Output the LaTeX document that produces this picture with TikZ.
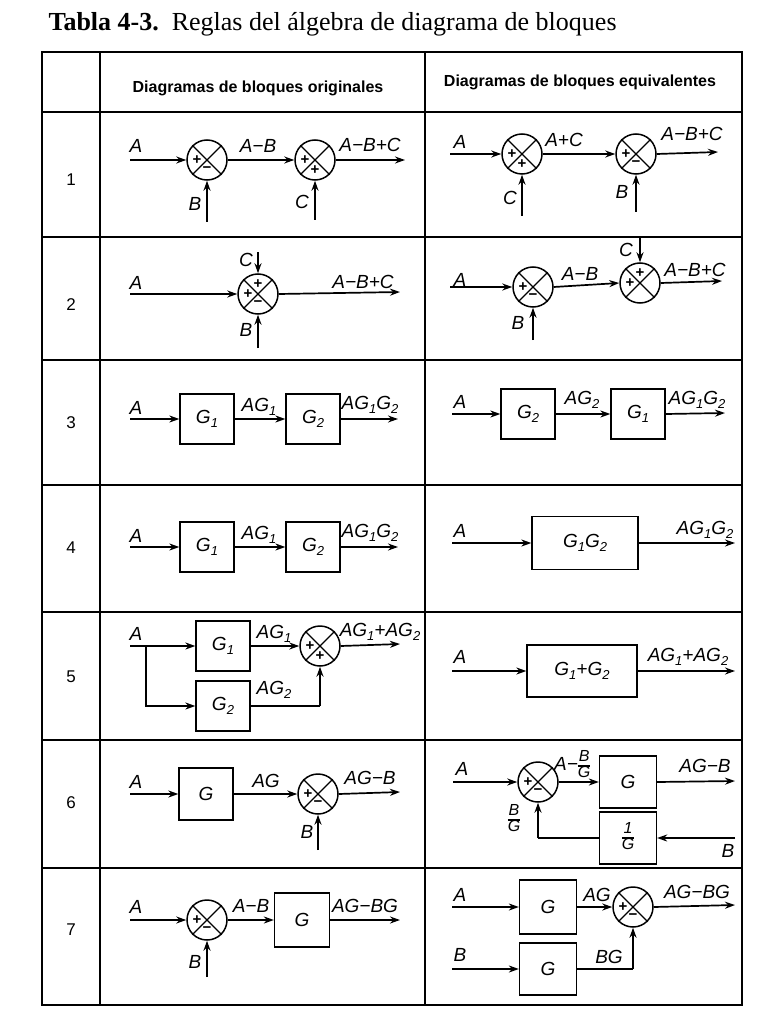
\documentclass[tikz,border=0pt]{standalone}
\usepackage{fontspec}
\setmainfont{Liberation Serif}
\newfontfamily\labf{Liberation Sans}
\usetikzlibrary{arrows.meta,calc}
\newcommand\lab{\labf\itshape\fontsize{19}{21}\selectfont}
\newcommand\sub[1]{\raisebox{-0.35ex}{\fontsize{13}{13}\selectfont #1}}
\newcommand\fr[2]{\begingroup\fontsize{16}{16}\selectfont\setlength\arrayrulewidth{1.2pt}\renewcommand\arraystretch{0.75}\begin{tabular}{@{}c@{}}#1\\\hline #2\end{tabular}\endgroup}
\newcommand\sj[5]{\node[sumj] (#1) at #2 {};
 \draw[line width=1.2pt] (#1.45)--(#1.225) (#1.135)--(#1.315);
 \node[sg] at ($(#1)+(-10,0)$) {#3};
 \node[sg] at ($(#1)+(0,-10)$) {#4};
 \node[sg] at ($(#1)+(0,10)$) {#5};}
\begin{document}
\begin{tikzpicture}[x=1pt,y=-1pt,
 ar/.style={-{Stealth[length=10pt,width=7pt]},line width=1.7pt},
 ln/.style={line width=1.7pt},
 tl/.style={line width=1.5pt},
 blk/.style={draw,line width=1.3pt,minimum width=54pt,minimum height=50pt,inner sep=0pt,font=\lab},
 sumj/.style={circle,draw,line width=1.5pt,minimum size=40pt,inner sep=0pt},
 sg/.style={font=\labf\bfseries\fontsize{15}{15}\selectfont,inner sep=0pt},
 lb/.style={font=\lab,inner sep=0pt},
 num/.style={font=\labf\fontsize{17}{17}\selectfont},
 hd/.style={font=\labf\bfseries\fontsize{16}{17}\selectfont}]
\useasboundingbox (0,0) rectangle (768,1024);
\node[anchor=west,font=\fontsize{26}{28}\selectfont] (title) at (45,24) {\textbf{Tabla 4-3.}\enspace Reglas del álgebra de diagrama de bloques};
% table
\draw[tl] (42,52) rectangle (742,1005);
\draw[tl] (100,52) -- (100,1005) (425,52) -- (425,1005);
\foreach \yy in {112,237,360,485,612,740,868} \draw[tl] (42,\yy) -- (742,\yy);
\node[hd] (h1) at (258,88) {Diagramas de bloques originales};
\node[hd] (h2) at (580,82) {Diagramas de bloques equivalentes};
\foreach \n/\yy in {1/180,2/305,3/423,4/548,5/677,6/803,7/930} \node[num] (n\n) at (71,\yy) {\n};
% row 1 left
\sj{a1}{(207,160)}{+}{}{−}
\sj{a2}{(315,160)}{+}{}{+}
\draw[ar] (130,160) -- (a1.west);
\draw[ar] (207,222) -- (a1.south);
\draw[ar] (a1.east) -- (a2.west);
\draw[ar] (315,220) -- (a2.south);
\draw[ar] (a2.east) -- (405,160);
\node[lb] (l1) at (136,146) {A};
\node[lb] (l2) at (195,204) {B};
\node[lb] (l3) at (258,146) {A−B};
\node[lb] (l4) at (302,202) {C};
\node[lb] (l5) at (370,145) {A−B+C};
% row 1 right
\sj{b1}{(522,154)}{+}{}{+}
\sj{b2}{(636,154)}{+}{}{−}
\draw[ar] (450,154) -- (b1.west);
\draw[ar] (522,216) -- (b1.south);
\draw[ar] (b1.east) -- (b2.west);
\draw[ar] (636,212) -- (b2.south);
\draw[ar] (b2.east) -- (718,152);
\node[lb] (m1) at (460,142) {A};
\node[lb] (m2) at (510,198) {C};
\node[lb] (m3) at (564,140) {A+C};
\node[lb] (m4) at (622,192) {B};
\node[lb] (m5) at (692,134) {A−B+C};
% row 2 left
\sj{c1}{(258,294)}{+}{+}{−}
\draw[ar] (130,294) -- (c1.west);
\draw[ar] (258,252) -- (c1.north);
\draw[ar] (258,348) -- (c1.south);
\draw[ar] (c1.east) -- (400,292);
\node[lb] (p1) at (136,283) {A};
\node[lb] (p2) at (246,260) {C};
\node[lb] (p3) at (246,330) {B};
\node[lb] (p4) at (363,282) {A−B+C};
% row 2 right
\sj{d1}{(533,287)}{+}{}{−}
\sj{d2}{(640,283)}{+}{+}{}
\draw[ar] (450,287) -- (d1.west);
\draw[ar] (533,340) -- (d1.south);
\draw[ar] (d1.east) -- (d2.west);
\draw[ar] (640,238) -- (d2.north);
\draw[ar] (d2.east) -- (722,281);
\node[lb] (q1) at (460,280) {A};
\node[lb] (q2) at (518,323) {B};
\node[lb] (q3) at (580,274) {A−B};
\node[lb] (q4) at (626,250) {C};
\node[lb] (q5) at (695,270) {A−B+C};
% row 3 left
\node[blk] (e1) at (207,419) {G\sub{1}};
\node[blk] (e2) at (313,419) {G\sub{2}};
\draw[ar] (130,419) -- (e1.west);
\draw[ar] (e1.east) -- (e2.west);
\draw[ar] (e2.east) -- (398,419);
\node[lb] (r1) at (136,408) {A};
\node[lb] (r2) at (259,407) {AG\sub{1}};
\node[lb] (r3) at (370,405) {AG\sub{1}G\sub{2}};
% row 3 right
\node[blk] (f1) at (528,414) {G\sub{2}};
\node[blk] (f2) at (638,414) {G\sub{1}};
\draw[ar] (452,414) -- (f1.west);
\draw[ar] (f1.east) -- (f2.west);
\draw[ar] (f2.east) -- (725,413);
\node[lb] (s1) at (460,402) {A};
\node[lb] (s2) at (582,400) {AG\sub{2}};
\node[lb] (s3) at (697,400) {AG\sub{1}G\sub{2}};
% row 4 left
\node[blk] (g1) at (207,547) {G\sub{1}};
\node[blk] (g2) at (313,547) {G\sub{2}};
\draw[ar] (130,547) -- (g1.west);
\draw[ar] (g1.east) -- (g2.west);
\draw[ar] (g2.east) -- (398,547);
\node[lb] (t1) at (136,536) {A};
\node[lb] (t2) at (259,535) {AG\sub{1}};
\node[lb] (t3) at (370,533) {AG\sub{1}G\sub{2}};
% row 4 right
\node[blk,minimum width=106pt,minimum height=53pt] (h1b) at (585,543) {G\sub{1}G\sub{2}};
\draw[ar] (452,543) -- (h1b.west);
\draw[ar] (h1b.east) -- (735,543);
\node[lb] (u1) at (460,531) {A};
\node[lb] (u2) at (705,530) {AG\sub{1}G\sub{2}};
% row 5 left
\node[blk] (i1) at (223,646) {G\sub{1}};
\node[blk] (i2) at (223,706) {G\sub{2}};
\sj{i3}{(320,646)}{+}{}{+}
\coordinate (br) at (146,646);
\coordinate (bk) at (320,706);
\draw[ar] (130,646) -- (i1.west);
\draw[ar] (br) |- (i2.west);
\draw[ar] (i1.east) -- (i3.west);
\draw[ln] (i2.east) -- (bk);
\draw[ar] (bk) -- (i3.south);
\draw[ar] (i3.east) -- (400,644);
\node[lb] (v1) at (136,634) {A};
\node[lb] (v2) at (274,634) {AG\sub{1}};
\node[lb] (v3) at (274,690) {AG\sub{2}};
\node[lb] (v4) at (380,632) {AG\sub{1}+AG\sub{2}};
% row 5 right
\node[blk,minimum width=110pt,minimum height=52pt] (j1) at (582,671) {G\sub{1}+G\sub{2}};
\draw[ar] (452,671) -- (j1.west);
\draw[ar] (j1.east) -- (735,671);
\node[lb] (w1) at (460,657) {A};
\node[lb] (w2) at (688,657) {AG\sub{1}+AG\sub{2}};
% row 6 left
\node[blk,minimum height=52pt] (k1) at (206,794) {G};
\sj{k2}{(318,794)}{+}{}{−}
\draw[ar] (130,794) -- (k1.west);
\draw[ar] (k1.east) -- (k2.west);
\draw[ar] (318,850) -- (k2.south);
\draw[ar] (k2.east) -- (400,792);
\node[lb] (x1) at (136,782) {A};
\node[lb] (x2) at (266,781) {AG};
\node[lb] (x3) at (307,832) {B};
\node[lb] (x4) at (370,778) {AG−B};
% row 6 right
\sj{o1}{(538,782)}{+}{}{−}
\node[blk,minimum width=57pt,minimum height=52pt] (o2) at (628,782) {G};
\node[blk,minimum width=57pt,minimum height=52pt] (o3) at (628,838) {\fr{1}{G}};
\coordinate (fb) at (538,838);
\draw[ar] (453,782) -- (o1.west);
\draw[ar] (o1.east) -- (o2.west);
\draw[ar] (o2.east) -- (735,781);
\draw[ar] (735,838) -- (o3.east);
\draw[ln] (o3.west) -- (fb);
\draw[ar] (fb) -- (o1.south);
\node[lb] (y1) at (462,769) {A};
\node[lb,anchor=west] (y2) at (554,766) {A−\fr{B}{G}};
\node[lb] (y3) at (705,766) {AG−B};
\node[lb] (y4) at (728,851) {B};
\node[lb] (y5) at (514,820) {\fr{B}{G}};
% row 7 left
\sj{z1}{(207,920)}{+}{}{−}
\node[blk,minimum width=55pt,minimum height=54pt] (z2) at (302,920) {G};
\draw[ar] (130,920) -- (z1.west);
\draw[ar] (207,977) -- (z1.south);
\draw[ar] (z1.east) -- (z2.west);
\draw[ar] (z2.east) -- (400,920);
\node[lb] (aa1) at (136,907) {A};
\node[lb] (aa2) at (195,962) {B};
\node[lb] (aa3) at (251,906) {A−B};
\node[lb] (aa4) at (365,906) {AG−BG};
% row 7 right
\node[blk,minimum width=57pt,minimum height=54pt] (bb1) at (548,907) {G};
\node[blk,minimum width=57pt,minimum height=52pt] (bb2) at (548,969) {G};
\sj{bb3}{(633,907)}{+}{}{−}
\coordinate (bk7) at (633,969);
\draw[ar] (452,907) -- (bb1.west);
\draw[ar] (452,969) -- (bb2.west);
\draw[ar] (bb1.east) -- (bb3.west);
\draw[ln] (bb2.east) -- (bk7);
\draw[ar] (bk7) -- (bb3.south);
\draw[ar] (bb3.east) -- (735,905);
\node[lb] (cc1) at (460,895) {A};
\node[lb] (cc2) at (460,955) {B};
\node[lb] (cc3) at (597,895) {AG};
\node[lb] (cc4) at (609,957) {BG};
\node[lb] (cc5) at (697,892) {AG−BG};
\end{tikzpicture}
\end{document}
